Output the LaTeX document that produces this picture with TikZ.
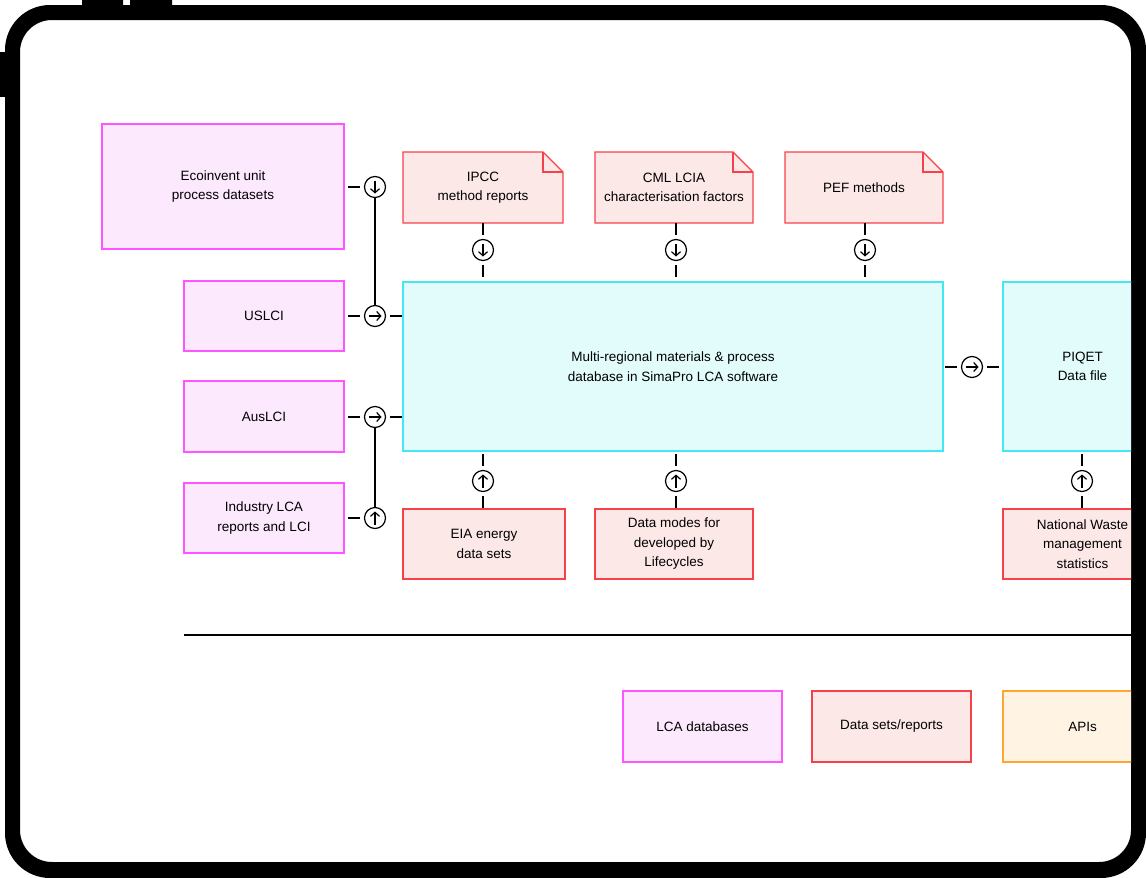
\documentclass[tikz,border=0pt]{standalone}
\usepackage{fontspec}
\setmainfont{Liberation Sans}
\usetikzlibrary{positioning, arrows.meta, shapes.misc}
\definecolor{dbline}{HTML}{FF55FF}
\definecolor{dbfill}{HTML}{FDE9FD}
\definecolor{repline}{HTML}{F5424A}
\definecolor{repfill}{HTML}{FDE8E8}
\definecolor{swline}{HTML}{45E8F2}
\definecolor{swfill}{HTML}{E2FCFC}
\definecolor{apiline}{HTML}{FFA532}
\definecolor{apifill}{HTML}{FFF3E4}
\tikzstyle{db} = [draw=dbline, fill=dbfill, line width=1.3pt, rectangle, align=center, font=\fontsize{13.5}{19.5}\selectfont]
\tikzstyle{rep} = [draw=repline, fill=repfill, line width=1.3pt, rectangle, align=center, font=\fontsize{13.5}{19.5}\selectfont]
\tikzstyle{sw} = [draw=swline, fill=swfill, line width=1.3pt, rectangle, align=center, font=\fontsize{13.5}{19.5}\selectfont]
\tikzstyle{api} = [draw=apiline, fill=apifill, line width=1.3pt, rectangle, align=center, font=\fontsize{13.5}{19.5}\selectfont]
\tikzstyle{flow} = [draw, circle, line width=1.2pt, minimum size=21pt, inner sep=0pt]
\tikzstyle{tick} = [line width=1.2pt]
% box from corner to corner
\newcommand{\boxat}[5]{\node[#1, minimum width={#4-#2}, minimum height={#5-#3}] at ({(#2+#4)/2},{(#3+#5)/2})}
% folded report
\newcommand{\docat}[6]{%
  \fill[repfill] (#1,#2) -- (#3-20,#2) -- (#3,#2+20) -- (#3,#4) -- (#1,#4) -- cycle;
  \draw[repline, line width=1.3pt] (#1,#2) -- (#3-20,#2) -- (#3,#2+20) -- (#3,#4) -- (#1,#4) -- cycle;
  \draw[repline, line width=1.3pt] (#3-20,#2) -- (#3-20,#2+20) -- (#3,#2+20);
  \node[align=center, font=\fontsize{13.5}{19.5}\selectfont] (#5) at ({(#1+#3)/2},{(#2+#4)/2}) {#6};}
% flow marker: name, x, y, direction angle (y runs down)
\newcommand{\flowat}[4]{%
  \node[flow] (#1) at (#2,#3) {};
  \draw[line width=1.2pt, -{Straight Barb[length=4pt, width=9pt]}] (#1.center) ++(#4+180:6.5) -- ++(#4:13);}

\begin{document}
\begin{tikzpicture}[x=1pt, y=-1pt]
	\useasboundingbox (0,0) rectangle (1146,878);
	
	% device frame
	\fill (82,6) rectangle (123,0) (130,6) rectangle (172,0);
	\fill (0,52) rectangle (6,97);
	\fill[even odd rule, rounded corners=45] (5,5) rectangle (1146,878)
		[rounded corners=32] (20,20) rectangle (1131,862);
	
	\begin{scope}
	\clip (20,20) rectangle (1131,862);
	
	% databases
	\boxat{db}{102}{124}{344}{249} (eco) {Ecoinvent unit\\process datasets};
	\boxat{db}{184}{281}{344}{351} (uslci) {USLCI};
	\boxat{db}{184}{381}{344}{452} (auslci) {AusLCI};
	\boxat{db}{184}{483}{344}{553} (industry) {Industry LCA\\reports and LCI};
	
	% methods
	\docat{403}{152}{563}{223}{ipcc}{IPCC\\method reports}
	\docat{595}{152}{753}{223}{cml}{CML LCIA\\characterisation factors}
	\docat{785}{152}{943}{223}{pef}{PEF methods}
	
	% software
	\boxat{sw}{403}{282}{943}{451} (simapro) {Multi-regional materials \& process\\database in SimaPro LCA software};
	\boxat{sw}{1003}{282}{1162}{451} (piqet) {PIQET\\Data file};
	
	% data sets
	\boxat{rep}{403}{509}{565}{579} (eia) {EIA energy\\data sets};
	\boxat{rep}{595}{509}{753}{579} (modes) {Data modes for\\developed by\\Lifecycles};
	\boxat{rep}{1003}{509}{1162}{579} (waste) {National Waste\\management\\statistics};
	
	% flows
	\flowat{feco}{375}{187}{90}
	\flowat{fus}{375}{316}{0}
	\flowat{faus}{375}{417}{0}
	\flowat{find}{375}{518}{-90}
	\flowat{fipcc}{483}{250}{90}
	\flowat{fcml}{676}{250}{90}
	\flowat{fpef}{865}{250}{90}
	\flowat{feia}{483}{481}{-90}
	\flowat{fmodes}{676}{481}{-90}
	\flowat{fwaste}{1082}{481}{-90}
	\flowat{fpiqet}{972}{367}{0}
	\draw[tick] (feco) -- (fus);
	\draw[tick] (faus) -- (find);
	\foreach \f in {feco, fus, faus, find, fpiqet}
		\draw[tick] (\f.west) ++(-4,0) -- ++(-12,0);
	\foreach \f in {fus, faus, fpiqet}
		\draw[tick] (\f.east) ++(4,0) -- ++(12,0);
	\foreach \f in {fipcc, fcml, fpef, feia, fmodes, fwaste}
		\draw[tick] (\f.north) ++(0,-4) -- ++(0,-12)
			(\f.south) ++(0,4) -- ++(0,12);
	
	% legend
	\draw[line width=1.2pt] (184,635) -- (1131,635);
	\boxat{db}{623}{691}{782}{762} (kdb) {LCA databases};
	\boxat{rep}{812}{691}{971}{762} (krep) {Data sets/reports};
	\boxat{api}{1003}{691}{1162}{762} (kapi) {APIs};
	\end{scope}
	
\end{tikzpicture}
\end{document}
